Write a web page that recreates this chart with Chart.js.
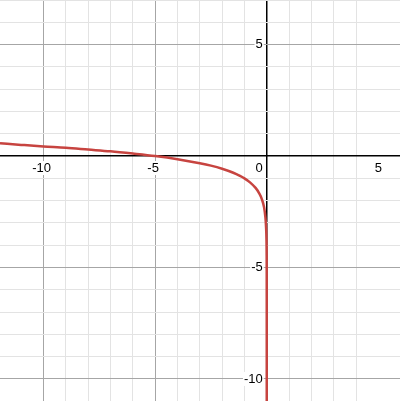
<!DOCTYPE html>
<html>
<head>
<meta charset="utf-8">
<script src="https://cdn.jsdelivr.net/npm/chart.js@4.4.1/dist/chart.umd.min.js"></script>
<style>
    html, body { margin: 0; padding: 0; background: #fff; }
    #wrap { width: 400px; height: 401px; position: relative; }
</style>
</head>
<body>
<div id="wrap"><canvas id="graph"></canvas></div>
<script>
// values
const curveX = [-11.95, -11, -10, -9, -8, -7, -6, -5, -4, -3, -2.5, -2, -1.5, -1.2, -1, -0.75, -0.5, -0.35, -0.22, -0.12, -0.06, -0.03, -0.012, -0.004, -0.001, -0.0002, -0.00002, 0];
const curveY = [0.57, 0.5, 0.43, 0.37, 0.29, 0.21, 0.11, 0, -0.14, -0.32, -0.43, -0.57, -0.75, -0.89, -1.0, -1.18, -1.43, -1.65, -1.93, -2.3, -2.75, -3.2, -3.75, -4.45, -5.3, -6.3, -7.7, -11.5];

const xTickLabels = [-10, -5, 5];
const yTickLabels = [5, -5, -10];

const xMin = -11.95, xMax = 5.97;
const yMin = -10.99, yMax = 7.0;

const points = curveX.map((x, i) => ({ x: x, y: curveY[i] }));

function gridColor(ctx) {
    const v = ctx.tick.value;
    if (Math.abs(v - Math.round(v)) > 1e-6) return "rgba(0,0,0,0)";
    if (v === 0) return "#000000";
    if (v % 5 === 0) return "#a6a6a6";
    return "#e3e3e3";
}
function gridWidth(ctx) {
    return ctx.tick.value === 0 ? 1.5 : 1;
}

// numbers on the axes, with a white box behind them
const axisLabels = {
    id: "axisLabels",
    beforeDatasetsDraw(chart) {
        const c = chart.ctx;
        const xs = chart.scales.x, ys = chart.scales.y;
        const x0 = xs.getPixelForValue(0), y0 = ys.getPixelForValue(0);
        c.save();
        c.font = "13px 'Liberation Sans', Arial, sans-serif";
        c.textBaseline = "middle";
        const box = (txt, px, py, align) => {
            const w = c.measureText(txt).width;
            let left = align === "center" ? px - w / 2 : px - w;
            c.fillStyle = "#ffffff";
            c.fillRect(left - 1, py - 7, w + 2, 14);
            c.fillStyle = "#000000";
            c.textAlign = align;
            c.fillText(txt, px, py);
        };
        xTickLabels.forEach((v) => {
            box(String(v).replace("-", "-"), xs.getPixelForValue(v) - (v < 0 ? 2 : 0), y0 + 12, "center");
        });
        yTickLabels.forEach((v) => {
            box(String(v), x0 - 4, ys.getPixelForValue(v), "right");
        });
        box("0", x0 - 4, y0 + 12, "right");
        c.restore();
    },
};

new Chart(document.getElementById("graph"), {
    type: "scatter",
    data: {
        datasets: [
            {
                data: points,
                showLine: true,
                borderColor: "#c74440",
                borderWidth: 2.5,
                pointRadius: 0,
                cubicInterpolationMode: "monotone",
                fill: false,
            },
        ],
    },
    options: {
        responsive: true,
        maintainAspectRatio: false,
        animation: false,
        layout: { padding: 0 },
        scales: {
            x: {
                type: "linear",
                min: xMin,
                max: xMax,
                ticks: { display: false, stepSize: 1 },
                grid: { color: gridColor, lineWidth: gridWidth, drawTicks: false },
                border: { display: false },
                afterFit: (s) => { s.height = 0; },
            },
            y: {
                type: "linear",
                min: yMin,
                max: yMax,
                ticks: { display: false, stepSize: 1 },
                grid: { color: gridColor, lineWidth: gridWidth, drawTicks: false },
                border: { display: false },
                afterFit: (s) => { s.width = 0; },
            },
        },
        plugins: {
            legend: { display: false },
            tooltip: { enabled: false },
        },
    },
    plugins: [axisLabels],
});
</script>
</body>
</html>
